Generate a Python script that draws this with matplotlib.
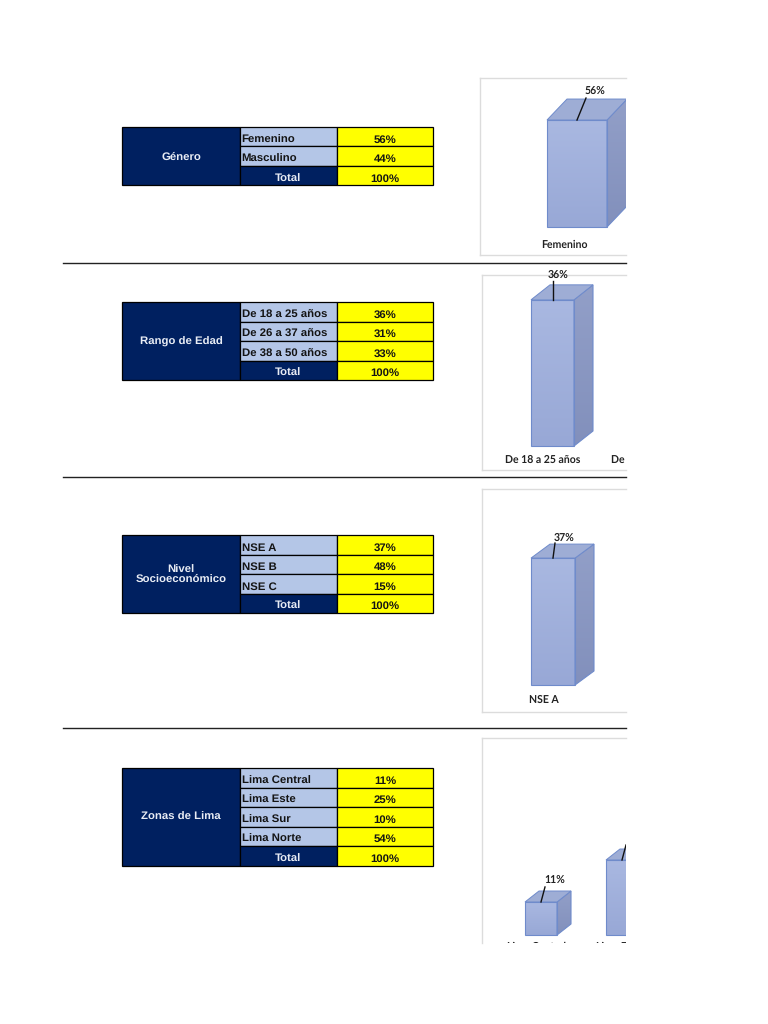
import matplotlib
matplotlib.use("Agg")
import matplotlib.pyplot as plt
import numpy as np
from matplotlib.colors import LinearSegmentedColormap
from matplotlib.patches import Rectangle, Polygon
from matplotlib.transforms import Bbox, TransformedBbox

W, H = 768, 1024

# tablas
genero_cat = ["Femenino", "Masculino"]
genero_val = [56, 44]
edad_cat = ["De 18 a 25 años", "De 26 a 37 años", "De 38 a 50 años"]
edad_val = [36, 31, 33]
nse_cat = ["NSE A", "NSE B", "NSE C"]
nse_val = [37, 48, 15]
zona_cat = ["Lima Central", "Lima Este", "Lima Sur", "Lima Norte"]
zona_val = [11, 25, 10, 54]

NAVY = "#002060"
LIGHT = "#b4c6e7"
YELLOW = "#ffff00"
TOP = "#9eadd5"
EDGE = "#6f8bcb"
GRID = "#dcdcdc"
TXT = "#141414"
FRONT_CM = LinearSegmentedColormap.from_list("front", ["#a9b8e1", "#98a8d6"])
SIDE_CM = LinearSegmentedColormap.from_list("side", ["#929fc8", "#8290bc"])
GRAD = np.linspace(0, 1, 64).reshape(-1, 1)

plt.rcParams["text.hinting"] = "no_hinting"

fig = plt.figure(figsize=(W / 100, H / 100), dpi=100, facecolor="white")
bg = fig.add_axes([0, 0, 1, 1])
bg.set_xlim(0, W)
bg.set_ylim(H, 0)
bg.axis("off")

tab_font = dict(fontsize=8.2, fontweight="bold", family="Liberation Sans")
bar_font = dict(fontsize=7.6, fontweight="bold", family="Lato", color="#222222")


def celda(x, y, w, h, color):
    bg.add_patch(Rectangle((x, y), w, h, fc=color, ec="black", lw=0.9))


def tabla(titulo, cats, vals, y0, row_h):
    x0, x1, x2, x3 = 122, 240, 337, 433
    n = len(cats) + 1
    celda(x0, y0, x1 - x0, n * row_h, NAVY)
    bg.text((x0 + x1) / 2, y0 + n * row_h / 2 + 0.5, titulo, color="#e8ecf4", ha="center", va="center",
            linespacing=0.95, **tab_font)
    for i, (c, v) in enumerate(zip(cats, vals)):
        y = y0 + i * row_h
        base = y + row_h / 2 + 6
        celda(x1, y, x2 - x1, row_h, LIGHT)
        celda(x2, y, x3 - x2, row_h, YELLOW)
        bg.text(x1 + 1.5, base, c, color=TXT, ha="left", va="baseline", **tab_font)
        bg.text((x2 + x3) / 2, base, f"{v}%", color=TXT, ha="center", va="baseline", **tab_font)
    y = y0 + (n - 1) * row_h
    base = y + row_h / 2 + 6
    celda(x1, y, x2 - x1, row_h, NAVY)
    celda(x2, y, x3 - x2, row_h, YELLOW)
    bg.text((x1 + x2) / 2, base, "Total", color="#e8ecf4", ha="center", va="baseline", **tab_font)
    bg.text((x2 + x3) / 2, base, f"{sum(vals)}%", color=TXT, ha="center", va="baseline", **tab_font)


def cara(ax, puntos, cm, y1, y2):
    # relleno en degradado recortado a la cara de la barra
    xp = [p[0] for p in puntos]
    pol = Polygon(puntos, fc="none", ec=EDGE, lw=0.8, zorder=3)
    ax.add_patch(pol)
    im = ax.imshow(GRAD, cmap=cm, aspect="auto", origin="upper",
                   extent=(min(xp), max(xp), y1, y2), zorder=2)
    im.set_clip_path(pol)


def grafico(cats, vals, frame, base, esc, x0, ancho, paso, depth, lider, etq, cat_dx, cat_y, abierto_abajo=False):
    # frame = izquierda, arriba, derecha, abajo en pixeles
    l, t, r, b = frame
    ax = fig.add_axes([l / W, 1 - b / H, (r - l) / W, (b - t) / H])
    lims = (-(b - base) / esc, (base - t) / esc)
    ax.set_xticks([])
    ax.set_yticks([])
    ax.patch.set_alpha(0)
    for s in ax.spines.values():
        s.set_color(GRID)
        s.set_linewidth(1)
    ax.spines["right"].set_visible(False)
    if abierto_abajo:
        ax.spines["bottom"].set_visible(False)

    # las etiquetas se recortan solo por la derecha y abajo, no por arriba
    caja = TransformedBbox(Bbox([[l, t - 20], [r, b]]), bg.transData)
    dx, dy = depth
    dyv = dy / esc
    xs = [x0 + i * paso for i in range(len(vals))]
    for x, v, c in zip(xs, vals, cats):
        cara(ax, [(x + ancho, 0), (x + ancho + dx, dyv), (x + ancho + dx, v + dyv), (x + ancho, v)],
             SIDE_CM, 0, v + dyv)
        ax.add_patch(Polygon([(x, v), (x + dx, v + dyv), (x + ancho + dx, v + dyv), (x + ancho, v)],
                             fc=TOP, ec=EDGE, lw=0.7, zorder=3))
        cara(ax, [(x, 0), (x, v), (x + ancho, v), (x + ancho, 0)], FRONT_CM, 0, v)
        cx = x + ancho / 2
        ax.plot([cx, cx + lider[0]], [v, v + lider[1] / esc], color="#111111", lw=1, zorder=4)
        if cx + etq[0] < r + 40:
            tv = ax.text(cx + etq[0], v + etq[1] / esc, f"{v}%", ha="center", va="center", zorder=5, **bar_font)
            tv.set_clip_box(caja)
            tv.set_clip_on(True)
        if cx + cat_dx < r + 40:
            tc = ax.text(cx + cat_dx, -(cat_y - base) / esc, c, ha="center", va="center", **bar_font)
            tc.set_clip_box(caja)
            tc.set_clip_on(True)
    ax.set_xlim(l, r)
    ax.set_ylim(*lims)


tabla("Género", genero_cat, genero_val, 127, 19.4)
tabla("Rango de Edad", edad_cat, edad_val, 302, 19.5)
tabla("Nivel\nSocioeconómico", nse_cat, nse_val, 535, 19.5)
tabla("Zonas de Lima", zona_cat, zona_val, 768, 19.5)

for y in [263, 477, 728]:
    bg.plot([63, 626], [y, y], color="#222222", lw=1)

grafico(genero_cat, genero_val, (480, 78, 626, 255), 227, 1.91, 547, 60, 200, (20, 21),
        (9, 22), (18, 29), -13, 245)
grafico(edad_cat, edad_val, (482, 275, 626, 470), 446, 4.06, 531, 43, 106.5, (19, 15),
        (0, 19), (6, 25), -10, 460)
grafico(nse_cat, nse_val, (482, 489, 626, 712), 685, 3.43, 531, 44, 110, (19, 14),
        (2, 15), (11, 20), -9, 700)
grafico(zona_cat, zona_val, (482, 738, 626, 943), 935, 3.0, 525, 32, 81, (14, 11),
        (4, 15), (14, 22), -4, 946.5, abierto_abajo=True)

fig.savefig("out.png", dpi=100, facecolor="white")
